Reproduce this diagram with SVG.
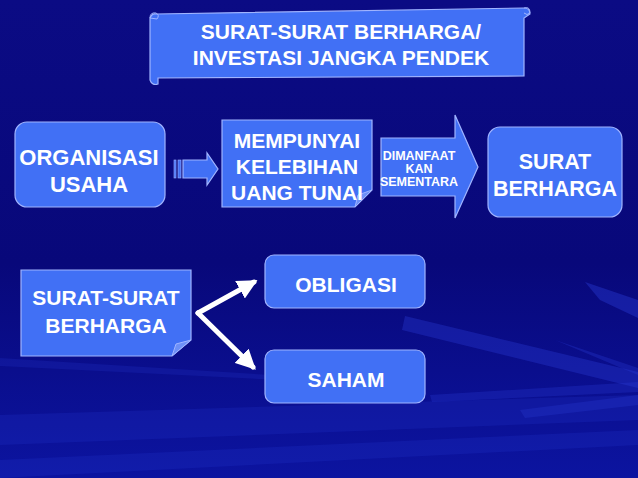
<svg xmlns="http://www.w3.org/2000/svg" width="638" height="478" viewBox="0 0 638 478">
<defs>
<linearGradient id="bg" x1="0" y1="0" x2="0" y2="1">
<stop offset="0" stop-color="#0b0b84"/>
<stop offset="0.55" stop-color="#08087a"/>
<stop offset="1" stop-color="#0c14a0"/>
</linearGradient>
<marker id="ah" viewBox="0 0 10 10" refX="8" refY="5" markerWidth="4" markerHeight="4" orient="auto">
<path d="M0,0 L10,5 L0,10 Z" fill="#ffffff"/>
</marker>
<style>
.box{fill:#4170f5;stroke:#a0b4ff;stroke-width:1.2}
.t{font-family:"Liberation Sans",Arial,sans-serif;font-weight:bold;fill:#ffffff;text-anchor:middle}
.fold{fill:#6d90f7;stroke:#a0b4ff;stroke-width:1}
.con{stroke:#ffffff;stroke-width:5;fill:none;marker-end:url(#ah)}
</style>
</defs>
<rect width="638" height="478" fill="url(#bg)"/>
<g fill="#2a3cd8">
<polygon points="405,316 638,372 638,388 402,330" opacity="0.35"/>
<polygon points="585,282 638,300 638,318 600,300" opacity="0.4"/>
<polygon points="555,340 638,368 638,375" opacity="0.3"/>
<polygon points="430,395 638,382 638,392 432,402" opacity="0.28"/>
<polygon points="520,410 638,395 638,405 525,418" opacity="0.28"/>
<polygon points="0,415 638,395 638,420 0,445" opacity="0.2"/>
<polygon points="0,460 638,430 638,445 0,478" opacity="0.2"/>
<polygon points="0,358 320,378 320,382 0,366" opacity="0.2"/>
</g>
<g id="title">
<path class="box" d="M156,14 L524,8 Q530,8 530,14 L524,18 L524,76 L158,78 L158,84 Q152,86 150,80 L150,18 Q152,13 156,14 Z"/>
<path d="M150,18 Q150,12 156,13 Q160,15 157,19 Z M524,8 Q530,6 530,13 Q527,16 524,13" fill="none" stroke="#a0b4ff" stroke-width="1"/>
<text class="t" x="341" y="39" font-size="21">SURAT-SURAT BERHARGA/</text>
<text class="t" x="341" y="65" font-size="21">INVESTASI JANGKA PENDEK</text>
</g>
<g id="organisasi">
<rect class="box" x="15" y="122" width="150" height="85" rx="12"/>
<text class="t" x="89" y="165" font-size="22">ORGANISASI</text>
<text class="t" x="89" y="192" font-size="22">USAHA</text>
</g>
<g id="striped-arrow">
<polygon class="box" points="183,160 207,160 207,153 218,169 207,185 207,178 183,178"/>
<rect x="174" y="160" width="2" height="18" fill="#4170f5" stroke="#a0b4ff" stroke-width="0.6"/>
<rect x="178" y="160" width="3" height="18" fill="#4170f5" stroke="#a0b4ff" stroke-width="0.6"/>
</g>
<g id="mempunyai">
<path class="box" d="M222,120 L372,120 L372,190 L355,207 L222,207 Z"/>
<path class="fold" d="M372,190 L355,207 L358,195 Z"/>
<text class="t" x="297" y="148" font-size="21">MEMPUNYAI</text>
<text class="t" x="297" y="174" font-size="21">KELEBIHAN</text>
<text class="t" x="297" y="200" font-size="21">UANG TUNAI</text>
</g>
<g id="dimanfaatkan">
<polygon class="box" points="381,138 455,138 455,115 478,167 455,218 455,196 381,196"/>
<text class="t" x="419" y="160" font-size="12.5">DIMANFAAT</text>
<text class="t" x="419" y="173" font-size="12.5">KAN</text>
<text class="t" x="419" y="186" font-size="12.5">SEMENTARA</text>
</g>
<g id="surat-berharga">
<rect class="box" x="488" y="127" width="134" height="90" rx="12"/>
<text class="t" x="555" y="169" font-size="21.5">SURAT</text>
<text class="t" x="555" y="196" font-size="21.5">BERHARGA</text>
</g>
<g id="surat-surat">
<path class="box" d="M21,270 L191,270 L191,340 L172,356 L21,356 Z"/>
<path class="fold" d="M191,340 L172,356 L176,344 Z"/>
<text class="t" x="106" y="305" font-size="21">SURAT-SURAT</text>
<text class="t" x="106" y="333" font-size="21">BERHARGA</text>
</g>
<g id="obligasi">
<rect class="box" x="265" y="255" width="160" height="53" rx="9"/>
<text class="t" x="346" y="292" font-size="21">OBLIGASI</text>
</g>
<g id="saham">
<rect class="box" x="265" y="350" width="160" height="53" rx="9"/>
<text class="t" x="346" y="387" font-size="21">SAHAM</text>
</g>
<g id="connectors">
<path class="con" d="M198,313 L254,282" stroke-linecap="round"/>
<path class="con" d="M198,313 L253,367" stroke-linecap="round"/>
</g>
</svg>
